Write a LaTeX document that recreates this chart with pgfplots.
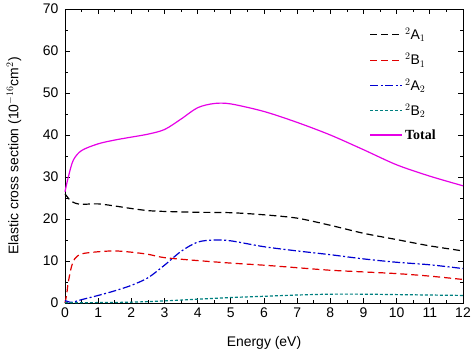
\documentclass[border=0pt]{standalone}
\usepackage{pgfplots}
\pgfplotsset{compat=1.18}
\usepackage{fontspec}
\setmainfont{Liberation Sans}
\newfontfamily\serifb{Liberation Serif}
\definecolor{cmag}{RGB}{230,0,230}
\definecolor{cred}{RGB}{225,0,0}
\definecolor{cblue}{RGB}{0,0,210}
\definecolor{cteal}{RGB}{0,128,128}
\tikzset{
  sA1/.style={draw=black, line width=1.2pt, dash pattern=on 7bp off 4bp},
  sB1/.style={draw=cred, line width=1.2pt, dash pattern=on 7bp off 4bp},
  sA2/.style={draw=cblue, line width=1.2pt, dash pattern=on 8bp off 2.5bp on 2bp off 2.5bp},
  sB2/.style={draw=cteal, line width=1.2pt, dash pattern=on 3bp off 2bp},
  sT/.style={draw=cmag, line width=1.2pt, solid},
  legtxt/.style={anchor=west, inner sep=0pt, font=\fontsize{14}{16}\selectfont},
}
\begin{document}
\begin{tikzpicture}
\begin{axis}[
  scale only axis,
  width=398bp, height=294bp,
  xmin=0, xmax=12, ymin=0, ymax=70,
  xtick={0,1,...,12}, ytick={0,10,...,70},
  minor x tick num=1, minor y tick num=1,
  tick align=inside,
  major tick length=5bp, minor tick length=3bp,
  axis line style={line width=0.9pt},
  every tick/.style={black, line width=0.8pt},
  tick label style={font=\fontsize{14}{16}\selectfont},
  yticklabel style={xshift=-3bp},
  xticklabel style={yshift=-1bp},
  /pgf/number format/assume math mode=true,
  xlabel={Energy (eV)},
  ylabel={Elastic cross section (10$^{-16}$cm$^{2}$)},
  label style={font=\fontsize{14}{16}\selectfont},
  xlabel style={at={(axis description cs:0.5,-0.136)}, anchor=center},
  ylabel style={at={(axis description cs:-0.128,0.5)}, anchor=center},
  clip=false,
]
\addplot[sA1, smooth, forget plot] coordinates {
(0,26) (0.15,24.5) (0.3,23.8) (0.5,23.5) (1,23.6) (1.5,23.1) (2,22.5) (2.5,22) (3,21.8) (4,21.6) (5,21.5) (6,21.0) (7,20.2) (8,18.5) (9,16.6) (10,15.1) (11,13.6) (12,12.4)};
\addplot[sB1, smooth, forget plot] coordinates {
(0,0) (0.05,2) (0.1,5) (0.2,8.8) (0.3,10.6) (0.5,11.7) (1,12.2) (1.5,12.4) (2,12.1) (2.5,11.6) (3,10.8) (4,10.1) (5,9.5) (6,9.0) (7,8.4) (8,7.8) (9,7.4) (10,7.0) (11,6.4) (12,5.6)};
\addplot[sA2, smooth, forget plot] coordinates {
(0,0.6) (0.2,0.15) (0.5,0.8) (1,1.8) (1.5,2.9) (2,4.2) (2.5,6.0) (3,9.0) (3.5,12.3) (4,14.5) (4.5,15.0) (5,14.8) (6,13.4) (7,12.4) (8,11.5) (9,10.5) (10,9.7) (11,9.1) (12,8.2)};
\addplot[sB2, smooth, forget plot] coordinates {
(0,0.05) (1,0.1) (2,0.2) (3,0.5) (4,0.9) (5,1.3) (6,1.6) (7,1.9) (8,2.1) (9,2.1) (10,2.0) (11,1.9) (12,1.8)};
\addplot[sT, smooth, forget plot] coordinates {
(0,26.5) (0.1,30) (0.25,34) (0.5,36.3) (1,37.9) (1.5,38.8) (2,39.5) (2.5,40.2) (3,41.3) (3.5,43.8) (4,46.5) (4.5,47.5) (5,47.4) (6,45.6) (7,43.0) (8,40.0) (9,36.5) (10,32.9) (11,30.2) (12,27.9)};
% legend samples, drawn through the axis
\addplot[sA1, forget plot] coordinates {(9.2,63.9) (10.15,63.9)};
\addplot[sB1, forget plot] coordinates {(9.2,57.8) (10.15,57.8)};
\addplot[sA2, forget plot] coordinates {(9.2,51.7) (10.15,51.7)};
\addplot[sB2, forget plot] coordinates {(9.2,45.8) (10.15,45.8)};
\addplot[sT, forget plot] coordinates {(9.2,40.0) (10.15,40.0)};
\node[legtxt] at (axis cs:10.25,63.9) {$^{2}$A$_{1}$};
\node[legtxt] at (axis cs:10.25,57.8) {$^{2}$B$_{1}$};
\node[legtxt] at (axis cs:10.25,51.7) {$^{2}$A$_{2}$};
\node[legtxt] at (axis cs:10.25,45.8) {$^{2}$B$_{2}$};
\node[legtxt] at (axis cs:10.25,40.0) {\serifb\bfseries Total};
\end{axis}
\pgfresetboundingbox
\path (current axis.south west) ++(-65bp,-52bp) rectangle ([shift={(11bp,9bp)}]current axis.north east);
\end{tikzpicture}
\end{document}
